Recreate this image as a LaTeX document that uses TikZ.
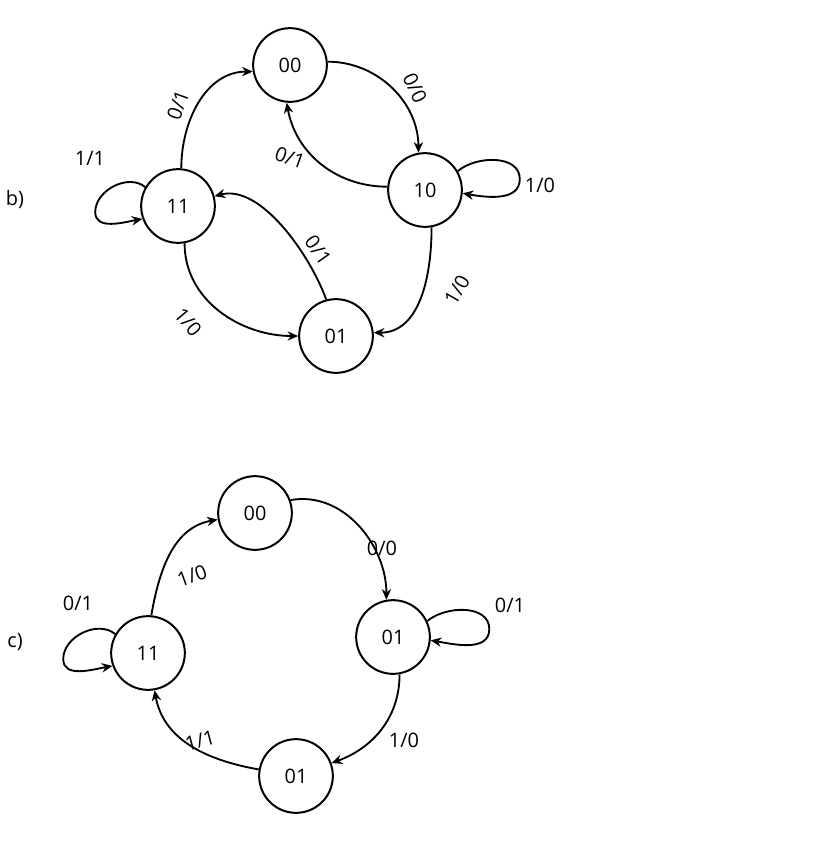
\documentclass[tikz,border=0pt]{standalone}
\usepackage{fontspec}
\setmainfont{Open Sans}
\usetikzlibrary{arrows.meta}
\begin{document}
\begin{tikzpicture}[x=0.0264583cm,y=-0.0264583cm,
  st/.style={circle,draw,line width=1.5pt,minimum size=1.95cm,inner sep=0pt,font=\fontsize{15}{18}\selectfont},
  ed/.style={-{Stealth[length=8pt,width=7pt]},line width=1.4pt},
  lb/.style={font=\fontsize{15}{18}\selectfont,inner sep=0pt}]
\useasboundingbox (0,0) rectangle (831,859);
\node[st] (b00) at (290,65) {00};
\node[st] (b10) at (425,190) {10};
\node[st] (b11) at (178,206) {11};
\node[st] (b01) at (336,336) {01};
\node[lb] (lbb) at (15,200) {b)};
\draw[ed] (b11.85) to[out=90,in=180] (b00.190);
\draw[ed] (b00.5) to[out=0,in=90] (b10.100);
\draw[ed] (b10.175) to[out=180,in=-80] (b00.-95);
\draw[ed] (b10.-80) to[out=-90,in=0] (b01.5);
\draw[ed] (b11.-80) to[out=-90,in=180] (b01.180);
\draw[ed] (b01.105) to[out=110,in=15,looseness=0.8] (b11.15);
\draw[ed] (b10.30) to[out=40,in=90] ++(62,8) to[out=-90,in=-10] (b10.-5);
\draw[ed] (b11.150) to[out=140,in=90] ++(-50,25) to[out=-90,in=190] (b11.-160);
\node[lb,rotate=70] (l1) at (178,105) {0/1};
\node[lb,rotate=-65] (l2) at (415,88) {0/0};
\node[lb,rotate=-20] (l3) at (290,158) {0/1};
\node[lb] (l4) at (540,185) {1/0};
\node[lb] (l5) at (90,158) {1/1};
\node[lb,rotate=60] (l6) at (457,290) {1/0};
\node[lb,rotate=-50] (l7) at (188,322) {1/0};
\node[lb,rotate=-55] (l8) at (318,250) {0/1};
\node[st] (c00) at (255,513) {00};
\node[st] (c01) at (393,637) {01};
\node[st] (c11) at (148,653) {11};
\node[st] (c01b) at (296,776) {01};
\node[lb] (lbc) at (15,642) {c)};
\draw[ed] (c11.85) to[out=80,in=190] (c00.190);
\draw[ed] (c00.20) to[out=10,in=90] (c01.100);
\draw[ed] (c01.-80) to[out=-90,in=20] (c01b.20);
\draw[ed] (c01b.170) to[out=170,in=-80] (c11.-80);
\draw[ed] (c01.25) to[out=40,in=90] ++(62,8) to[out=-90,in=-10] (c01.-5);
\draw[ed] (c11.150) to[out=140,in=90] ++(-52,25) to[out=-90,in=190] (c11.-160);
\node[lb,rotate=20] (m1) at (192,576) {1/0};
\node[lb] (m2) at (382,548) {0/0};
\node[lb] (m3) at (510,605) {0/1};
\node[lb] (m4) at (78,603) {0/1};
\node[lb] (m5) at (404,740) {1/0};
\node[lb,rotate=15] (m6) at (200,741) {1/1};
\end{tikzpicture}
\end{document}
